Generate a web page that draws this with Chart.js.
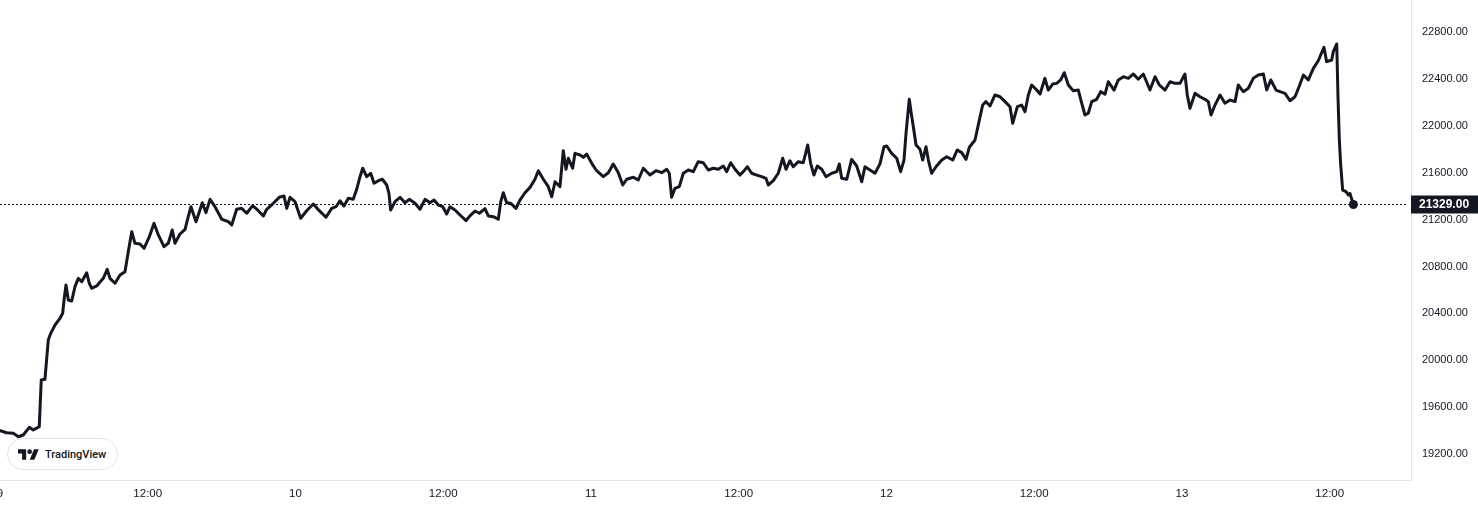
<!DOCTYPE html>
<html>
<head>
<meta charset="utf-8">
<script src="https://cdn.jsdelivr.net/npm/chart.js@4/dist/chart.umd.min.js"></script>
<style>
  html, body { margin: 0; padding: 0; background: #fff; }
  #wrap { position: relative; width: 1478px; height: 505px; }
  #tvBadge {
    position: absolute; left: 7px; top: 438px; width: 109px; height: 30px;
    border: 1px solid #e0e3eb; border-radius: 16px; background: #fff;
    display: flex; align-items: center; box-sizing: content-box;
    font-family: Roboto, "Liberation Sans", Arial, sans-serif; font-size: 11px; font-weight: 500; color: #131722;
  }
  #tvBadge svg { margin-left: 10px; margin-right: 6px; }
</style>
</head>
<body>
<div id="wrap">
  <canvas id="myChart"></canvas>
  <div id="tvBadge">
    <svg width="21" height="14" viewBox="0 0 36 24"><path fill="#131722" d="M14 22H7V11H0V4h14v18z"/><circle fill="#131722" cx="20" cy="8" r="4"/><path fill="#131722" d="M28 22h-8l7.5-18h8L28 22z"/></svg>
    <span>TradingView</span>
  </div>
</div>
<script>
// giờ tính từ 00:00 ngày 9
const hours = [
  0.00, 0.54, 1.08, 1.49, 1.89, 2.38, 2.70, 3.19, 3.35, 3.65,
  3.92, 4.12, 4.47, 4.87, 5.09, 5.20, 5.36, 5.55, 5.82, 6.09,
  6.36, 6.64, 7.04, 7.25, 7.45, 7.85, 8.39, 8.71, 8.93, 9.34,
  9.75, 10.15, 10.42, 10.70, 10.96, 11.37, 11.70, 12.13, 12.51, 12.86,
  13.32, 13.67, 13.99, 14.21, 14.62, 15.03, 15.29, 15.51, 15.92, 16.19,
  16.43, 16.73, 17.06, 17.46, 18.01, 18.54,
  18.82, 19.22, 19.63, 20.04, 20.52, 20.98, 21.39, 21.66, 22.20, 22.68,
  23.07, 23.29, 23.55, 23.96, 24.42, 24.96, 25.45, 25.93, 26.48, 26.94,
  27.29, 27.61, 27.94, 28.29, 28.69, 28.97, 29.24, 29.46, 29.78, 30.11,
  30.38, 30.73, 31.05, 31.41, 31.59, 31.73, 32.08, 32.49, 32.89, 33.24,
  33.71, 34.11, 34.52, 34.92, 35.25, 35.60, 35.96, 36.28,
  36.55, 36.95, 37.36, 37.85, 38.23, 38.58, 38.93, 39.39, 39.66, 40.07,
  40.47, 40.67, 40.88, 41.15, 41.48, 41.91, 42.23, 42.64, 43.05, 43.45,
  43.72, 44.13, 44.53, 44.81, 45.08, 45.48, 45.75, 45.97, 46.16, 46.51,
  46.70, 47.11, 47.38, 47.65, 48.06, 48.46, 49.00, 49.41, 49.81, 50.22,
  50.58, 50.90, 51.44, 51.84, 52.25, 52.79, 53.28, 53.74,
  54.15, 54.36, 54.55, 54.82, 55.17, 55.50, 55.90, 56.31, 56.71, 57.12,
  57.53, 57.93, 58.34, 58.75, 59.02, 59.35, 59.70, 60.10, 60.37, 60.70,
  61.05, 61.46, 61.87, 62.21, 62.40, 62.81, 63.21, 63.57, 63.84, 64.16,
  64.43, 64.84, 65.24, 65.60, 65.84, 66.11, 66.38, 66.74, 67.09, 67.55,
  67.96, 68.17, 68.36, 68.77, 69.17, 69.58, 69.99, 70.25, 70.66, 71.07,
  71.47, 71.80, 72.02, 72.42, 72.83, 73.15, 73.42, 73.59, 73.85, 74.05,
  74.18, 74.40, 74.72, 74.94, 75.21, 75.40, 75.67, 76.02, 76.49, 76.89,
  77.38, 77.75, 78.11, 78.46, 78.73, 79.19, 79.54, 79.81, 80.08, 80.41,
  80.81, 81.22, 81.63, 82.03, 82.25, 82.63, 82.98, 83.25, 83.52, 83.79,
  84.20, 84.47, 84.87, 85.14, 85.50, 85.82, 86.15, 86.44, 86.77, 87.17,
  87.58, 87.86, 88.12, 88.39, 88.67, 89.07, 89.40, 89.75,
  90.02, 90.48, 90.83, 91.24, 91.64, 92.05, 92.45, 92.86, 93.40, 93.81,
  94.16, 94.62, 95.03, 95.43, 95.84, 96.24, 96.43, 96.65, 97.06, 97.46,
  97.87, 98.14, 98.36, 98.68, 99.09, 99.49, 99.90, 100.31, 100.57, 100.98,
  101.39, 101.79, 102.20, 102.61, 102.88, 103.21, 103.64, 103.96, 104.37, 104.77,
  105.18, 105.53, 105.86, 106.26, 106.67, 107.07, 107.53, 107.75, 108.16, 108.29,
  108.57, 108.67, 108.78, 108.89, 109.05, 109.32, 109.51, 109.64, 109.92
];
const prices = [
  19400, 19382, 19377, 19348, 19363, 19428, 19405, 19434, 19832, 19838,
  20173, 20230, 20301, 20358, 20401, 20514, 20642, 20514, 20505, 20628,
  20699, 20670, 20747, 20657, 20614, 20634, 20699, 20776, 20699, 20657,
  20727, 20756, 20926, 21097, 20998, 20992, 20955, 21054, 21168, 21069,
  20969, 20998, 21111, 20998, 21077, 21117, 21225, 21310, 21182, 21267,
  21344, 21259, 21373, 21310, 21203, 21182,
  21154, 21288, 21296, 21254, 21319, 21276, 21231, 21288, 21339, 21390,
  21401, 21296, 21390, 21353, 21211, 21282, 21333, 21276, 21220, 21296,
  21310, 21361, 21316, 21382, 21373, 21458, 21566, 21638, 21566, 21595,
  21510, 21532, 21544, 21495, 21424, 21282, 21353, 21390, 21344, 21373,
  21339, 21288, 21373, 21344, 21367, 21324, 21310, 21248,
  21310, 21282, 21239, 21191, 21239, 21273, 21254, 21293, 21231, 21225,
  21203, 21353, 21429, 21344, 21339, 21296, 21367, 21429, 21475, 21544,
  21617, 21544, 21481, 21395, 21523, 21481, 21788, 21629, 21723, 21638,
  21765, 21751, 21731, 21759, 21680, 21617, 21566, 21600, 21674, 21600,
  21495, 21544, 21561, 21538, 21638, 21580, 21617, 21600,
  21629, 21595, 21390, 21467, 21481, 21595, 21623, 21609, 21694, 21685,
  21623, 21638, 21629, 21657, 21609, 21685, 21629, 21580, 21609, 21651,
  21595, 21580, 21566, 21552, 21495, 21532, 21595, 21723, 21629, 21702,
  21651, 21694, 21685, 21836, 21680, 21580, 21657, 21629, 21566, 21595,
  21609, 21674, 21552, 21544, 21714, 21657, 21523, 21651, 21623, 21595,
  21675, 21822, 21828, 21765, 21723, 21609, 21708, 21941, 22226, 22078,
  21992, 21836, 21800, 21708, 21822, 21708, 21595, 21651, 21708, 21736,
  21708, 21794, 21771, 21714, 21817, 21879, 22049, 22177, 22206, 22169,
  22263, 22248, 22206, 22163, 22021, 22163, 22177, 22120, 22263, 22348,
  22305, 22271, 22405, 22305, 22356, 22362, 22391, 22453, 22348, 22299,
  22305, 22192, 22092, 22107, 22206, 22226, 22291, 22270,
  22376, 22305, 22391, 22419, 22405, 22442, 22397, 22442, 22305, 22419,
  22348, 22305, 22376, 22362, 22362, 22442, 22263, 22149, 22277, 22248,
  22226, 22206, 22092, 22177, 22263, 22192, 22220, 22206, 22348, 22291,
  22320, 22405, 22433, 22442, 22305, 22391, 22305, 22291, 22277, 22214,
  22248, 22339, 22433, 22391, 22490, 22555, 22670, 22547, 22561, 22632,
  22698, 22248, 21879, 21666, 21452, 21438, 21410, 21424, 21329
];

// nhãn trục
const xTickHours = [0, 12, 24, 36, 48, 60, 72, 84, 96, 108];
const xTickLabels = ['9', '12:00', '10', '12:00', '11', '12:00', '12', '12:00', '13', '12:00'];
const yTickValues = [19200, 19600, 20000, 20400, 20800, 21200, 21600, 22000, 22400, 22800];

const lastPrice = prices[prices.length - 1];
const textColor = '#131722';
const lineColor = '#131722';
const borderColor = '#e0e3eb';
const fontFamily = '"Liberation Sans", Arial, sans-serif';

// đường giá hiện tại + nhãn
const priceLinePlugin = {
  id: 'priceLine',
  afterDraw(chart) {
    const { ctx, chartArea } = chart;
    const y = Math.round(chart.scales.y.getPixelForValue(lastPrice)) + 0.5;
    ctx.save();
    ctx.strokeStyle = lineColor;
    ctx.lineWidth = 1;
    ctx.setLineDash([2, 2]);
    ctx.beginPath();
    ctx.moveTo(chartArea.left, y);
    ctx.lineTo(chartArea.right - 3, y);
    ctx.stroke();
    ctx.setLineDash([]);
    ctx.fillStyle = lineColor;
    ctx.fillRect(chartArea.right, y - 9, chart.width - chartArea.right, 18);
    ctx.fillStyle = '#fff';
    ctx.font = 'bold 12px ' + fontFamily;
    ctx.textBaseline = 'middle';
    ctx.textAlign = 'left';
    ctx.fillText(lastPrice.toFixed(2), chartArea.right + 8, y);
    ctx.restore();
  }
};

const ctx = document.getElementById('myChart').getContext('2d');
const myChart = new Chart(ctx, {
  type: 'line',
  data: {
    datasets: [{
      data: hours.map((h, i) => ({ x: h, y: prices[i] })),
      borderColor: lineColor,
      backgroundColor: lineColor,
      borderWidth: 3,
      borderJoinStyle: 'round',
      borderCapStyle: 'round',
      tension: 0,
      pointRadius: c => c.dataIndex === prices.length - 1 ? 4.5 : 0,
      pointBorderWidth: 0,
      pointBackgroundColor: lineColor,
      clip: false
    }]
  },
  options: {
    responsive: true,
    maintainAspectRatio: false,
    animation: false,
    layout: { padding: 0, autoPadding: false },
    plugins: {
      legend: { display: false },
      tooltip: { enabled: false }
    },
    scales: {
      x: {
        type: 'linear',
        min: 0,
        max: 114.6,
        grid: { display: false, drawTicks: false },
        border: { display: true, color: borderColor, width: 1 },
        afterBuildTicks: s => { s.ticks = xTickHours.map(v => ({ value: v })); },
        afterFit: s => { s.height = 25; s.paddingLeft = 0; s.paddingRight = 0; },
        ticks: {
          autoSkip: false,
          maxRotation: 0,
          padding: 7,
          color: textColor,
          font: { family: fontFamily, size: 11.5 },
          callback: (v) => xTickLabels[xTickHours.indexOf(v)]
        }
      },
      y: {
        position: 'right',
        min: 18979,
        max: 23073,
        grid: { display: false, drawTicks: false },
        border: { display: true, color: borderColor, width: 1 },
        afterBuildTicks: s => { s.ticks = yTickValues.map(v => ({ value: v })); },
        afterFit: s => { s.width = 67; s.paddingTop = 0; s.paddingBottom = 0; },
        ticks: {
          padding: 11,
          color: textColor,
          font: { family: fontFamily, size: 11 },
          callback: v => v.toFixed(2)
        }
      }
    }
  },
  plugins: [priceLinePlugin]
});
</script>
</body>
</html>
